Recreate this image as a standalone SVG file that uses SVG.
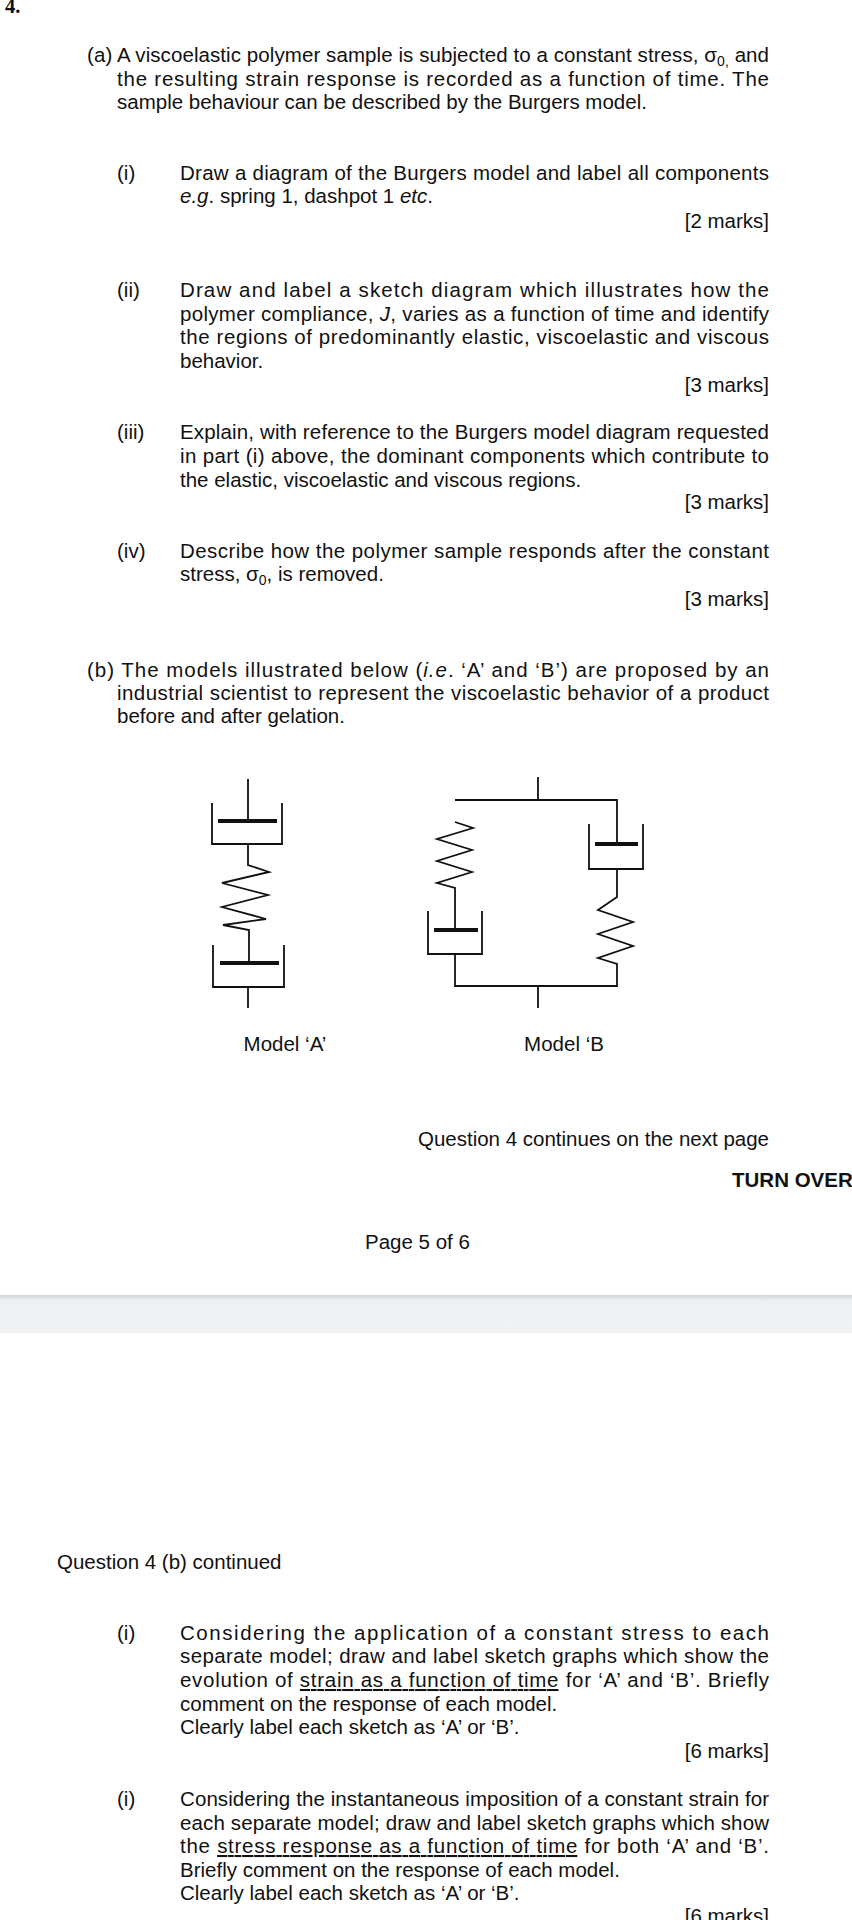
<svg xmlns="http://www.w3.org/2000/svg" width="852" height="1920" viewBox="0 0 852 1920">
<defs>
<linearGradient id="sh" x1="0" y1="0" x2="0" y2="1"><stop offset="0" stop-color="#d4d5d8"/><stop offset="0.15" stop-color="#eef0f2"/><stop offset="1" stop-color="#f1f2f4"/></linearGradient>
</defs>
<style>
text{font-family:"Liberation Sans",Arial,sans-serif;font-size:20.5px;fill:#111}
.j{lengthAdjust:spacing}
.r{text-anchor:end}
.ln{fill:none;stroke:#111;stroke-width:1.8;stroke-linejoin:miter}
.bar{stroke:#111;stroke-width:4}
.u{text-decoration:underline}
</style>
<rect width="852" height="1920" fill="#fff"/>
<rect x="0" y="1295" width="852" height="38" fill="url(#sh)"/>
<text x="5" y="13" style="font-family:'Liberation Serif',serif;font-weight:bold">4.</text>

<g id="part-a">
<text x="87" y="62" textLength="682" class="j">(a) A viscoelastic polymer sample is subjected to a constant stress, σ<tspan font-size="14" dy="4">0,</tspan><tspan dy="-4"> and</tspan></text>
<text x="117" y="86" textLength="652" class="j">the resulting strain response is recorded as a function of time. The</text>
<text x="117" y="109">sample behaviour can be described by the Burgers model.</text>

<text x="117" y="180">(i)</text>
<text x="180" y="180" textLength="589" class="j">Draw a diagram of the Burgers model and label all components</text>
<text x="180" y="203"><tspan font-style="italic">e.g</tspan>. spring 1, dashpot 1 <tspan font-style="italic">etc</tspan>.</text>
<text x="769" y="228" class="r">[2 marks]</text>

<text x="117" y="297">(ii)</text>
<text x="180" y="297" textLength="589" class="j">Draw and label a sketch diagram which illustrates how the</text>
<text x="180" y="321" textLength="589" class="j">polymer compliance, <tspan font-style="italic">J</tspan>, varies as a function of time and identify</text>
<text x="180" y="344" textLength="589" class="j">the regions of predominantly elastic, viscoelastic and viscous</text>
<text x="180" y="368">behavior.</text>
<text x="769" y="392" class="r">[3 marks]</text>

<text x="117" y="439">(iii)</text>
<text x="180" y="439" textLength="589" class="j">Explain, with reference to the Burgers model diagram requested</text>
<text x="180" y="463" textLength="589" class="j">in part (i) above, the dominant components which contribute to</text>
<text x="180" y="487">the elastic, viscoelastic and viscous regions.</text>
<text x="769" y="509" class="r">[3 marks]</text>

<text x="117" y="558">(iv)</text>
<text x="180" y="558" textLength="589" class="j">Describe how the polymer sample responds after the constant</text>
<text x="180" y="581">stress, σ<tspan font-size="14" dy="4">0</tspan><tspan dy="-4">, is removed.</tspan></text>
<text x="769" y="606" class="r">[3 marks]</text>
</g>

<g id="part-b">
<text x="87" y="677" textLength="682" class="j">(b) The models illustrated below (<tspan font-style="italic">i.e</tspan>. ‘A’ and ‘B’) are proposed by an</text>
<text x="117" y="700" textLength="652" class="j">industrial scientist to represent the viscoelastic behavior of a product</text>
<text x="117" y="723">before and after gelation.</text>
</g>

<g id="model-a">
<path class="ln" d="M248,779V821 M212,803V844H282V803 M248,844V865 L269,872 L222,883 L268,895 L222,907 L266,919 L223,925 L249,930 V963 M213,945V987H284V945 M248,987V1008"/>
<line class="bar" x1="218" y1="821" x2="277" y2="821"/>
<line class="bar" x1="220" y1="963" x2="279" y2="963"/>
<text x="285" y="1051" text-anchor="middle">Model ‘A’</text>
</g>

<g id="model-b">
<path class="ln" d="M538,777V800 M455,930V888 L437,883 L472,872 L437,861 L472,850 L437,839 L473,828 L455,822 M428,911V954H482V911 M455,954V986H617V964 L598,958 L633,946 L598,934 L633,922 L598,910 L617,897 V869 M589,824V869H643V824 M617,844V800H455 M538,986V1008"/>
<line class="bar" x1="434" y1="930" x2="478" y2="930"/>
<line class="bar" x1="595" y1="844" x2="638" y2="844"/>
<text x="564" y="1051" text-anchor="middle">Model ‘B</text>
</g>

<text x="769" y="1146" class="r">Question 4 continues on the next page</text>
<text x="732" y="1187" font-weight="bold">TURN OVER</text>
<text x="365" y="1249">Page 5 of 6</text>

<g id="page-6">
<text x="57" y="1569">Question 4 (b) continued</text>

<text x="117" y="1640">(i)</text>
<text x="180" y="1640" textLength="589" class="j">Considering the application of a constant stress to each</text>
<text x="180" y="1663" textLength="589" class="j">separate model; draw and label sketch graphs which show the</text>
<text x="180" y="1687" textLength="589" class="j">evolution of <tspan class="u">strain as a function of time</tspan> for ‘A’ and ‘B’. Briefly</text>
<text x="180" y="1711">comment on the response of each model.</text>
<text x="180" y="1734">Clearly label each sketch as ‘A’ or ‘B’.</text>
<text x="769" y="1758" class="r">[6 marks]</text>

<text x="117" y="1806">(i)</text>
<text x="180" y="1806" textLength="589" class="j">Considering the instantaneous imposition of a constant strain for</text>
<text x="180" y="1830" textLength="589" class="j">each separate model; draw and label sketch graphs which show</text>
<text x="180" y="1853" textLength="589" class="j">the <tspan class="u">stress response as a function of time</tspan> for both ‘A’ and ‘B’.</text>
<text x="180" y="1877">Briefly comment on the response of each model.</text>
<text x="180" y="1900">Clearly label each sketch as ‘A’ or ‘B’.</text>
<text x="769" y="1923" class="r">[6 marks]</text>
</g>
</svg>
